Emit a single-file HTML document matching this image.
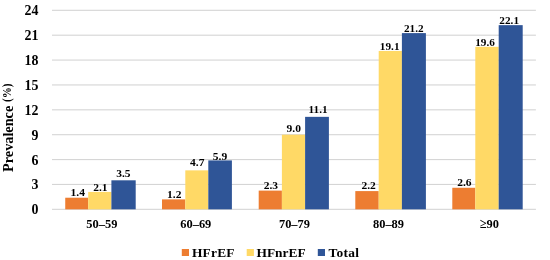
<!DOCTYPE html><html><head><meta charset="utf-8"><title>Prevalence</title>
<style>html,body{margin:0;padding:0;background:#fff}svg{display:block}text{font-family:"Liberation Serif",serif;font-weight:bold;fill:#000}</style></head><body>
<svg width="550" height="260" viewBox="0 0 550 260">
<rect width="550" height="260" fill="#fff"/>
<rect x="52.0" y="208.78" width="483.9" height="1.1" fill="#d5d5d5"/>
<text x="38.4" y="214.28" font-size="13.9" text-anchor="end">0</text>
<rect x="52.0" y="183.90" width="483.9" height="1.1" fill="#d5d5d5"/>
<text x="38.4" y="189.40" font-size="13.9" text-anchor="end">3</text>
<rect x="52.0" y="159.03" width="483.9" height="1.1" fill="#d5d5d5"/>
<text x="38.4" y="164.53" font-size="13.9" text-anchor="end">6</text>
<rect x="52.0" y="134.15" width="483.9" height="1.1" fill="#d5d5d5"/>
<text x="38.4" y="139.65" font-size="13.9" text-anchor="end">9</text>
<rect x="52.0" y="109.28" width="483.9" height="1.1" fill="#d5d5d5"/>
<text x="38.4" y="114.78" font-size="13.9" text-anchor="end">12</text>
<rect x="52.0" y="84.40" width="483.9" height="1.1" fill="#d5d5d5"/>
<text x="38.4" y="89.90" font-size="13.9" text-anchor="end">15</text>
<rect x="52.0" y="59.52" width="483.9" height="1.1" fill="#d5d5d5"/>
<text x="38.4" y="65.02" font-size="13.9" text-anchor="end">18</text>
<rect x="52.0" y="34.65" width="483.9" height="1.1" fill="#d5d5d5"/>
<text x="38.4" y="40.15" font-size="13.9" text-anchor="end">21</text>
<rect x="52.0" y="9.77" width="483.9" height="1.1" fill="#d5d5d5"/>
<text x="38.4" y="15.27" font-size="13.9" text-anchor="end">24</text>
<rect x="65.24" y="197.72" width="22.96" height="11.61" fill="#ED7D31"/>
<rect x="88.20" y="191.92" width="23.20" height="17.41" fill="#FFD966"/>
<rect x="111.40" y="180.31" width="24.30" height="29.02" fill="#2F5597"/>
<text transform="translate(77.80,196.30) scale(1.02,1)" font-size="11.3" text-anchor="middle">1.4</text>
<text transform="translate(100.35,190.50) scale(1.02,1)" font-size="11.3" text-anchor="middle">2.1</text>
<text transform="translate(123.35,177.00) scale(1.02,1)" font-size="11.3" text-anchor="middle">3.5</text>
<text transform="translate(101.85,227.85) scale(0.92,1)" font-size="13.5" text-anchor="middle">50–59</text>
<rect x="162.00" y="199.38" width="23.30" height="9.95" fill="#ED7D31"/>
<rect x="185.30" y="170.36" width="23.00" height="38.97" fill="#FFD966"/>
<rect x="208.30" y="160.41" width="23.60" height="48.92" fill="#2F5597"/>
<text transform="translate(174.20,197.80) scale(1.02,1)" font-size="11.3" text-anchor="middle">1.2</text>
<text transform="translate(197.20,165.80) scale(1.02,1)" font-size="11.3" text-anchor="middle">4.7</text>
<text transform="translate(220.05,160.00) scale(1.02,1)" font-size="11.3" text-anchor="middle">5.9</text>
<text transform="translate(195.8,227.85) scale(0.92,1)" font-size="13.5" text-anchor="middle">60–69</text>
<rect x="258.70" y="190.60" width="23.20" height="18.73" fill="#ED7D31"/>
<rect x="281.90" y="134.70" width="23.20" height="74.63" fill="#FFD966"/>
<rect x="305.10" y="116.85" width="23.80" height="92.48" fill="#2F5597"/>
<text transform="translate(270.85,189.40) scale(1.02,1)" font-size="11.3" text-anchor="middle">2.3</text>
<text transform="translate(293.70,132.20) scale(1.02,1)" font-size="11.3" text-anchor="middle">9.0</text>
<text transform="translate(318.05,113.30) scale(0.995,1)" font-size="11.3" text-anchor="middle">11.1</text>
<text transform="translate(294.45,227.85) scale(0.92,1)" font-size="13.5" text-anchor="middle">70–79</text>
<rect x="355.30" y="191.09" width="23.40" height="18.24" fill="#ED7D31"/>
<rect x="378.70" y="50.95" width="23.20" height="158.38" fill="#FFD966"/>
<rect x="401.90" y="33.10" width="24.00" height="176.23" fill="#2F5597"/>
<text transform="translate(368.60,189.00) scale(1.02,1)" font-size="11.3" text-anchor="middle">2.2</text>
<text transform="translate(389.70,49.90) scale(0.995,1)" font-size="11.3" text-anchor="middle">19.1</text>
<text transform="translate(413.75,32.10) scale(0.995,1)" font-size="11.3" text-anchor="middle">21.2</text>
<text transform="translate(388.5,227.85) scale(0.92,1)" font-size="13.5" text-anchor="middle">80–89</text>
<rect x="452.30" y="187.77" width="23.00" height="21.56" fill="#ED7D31"/>
<rect x="475.30" y="46.81" width="23.40" height="162.52" fill="#FFD966"/>
<rect x="498.70" y="25.15" width="24.00" height="184.18" fill="#2F5597"/>
<text transform="translate(464.40,186.40) scale(1.02,1)" font-size="11.3" text-anchor="middle">2.6</text>
<text transform="translate(485.05,45.60) scale(0.995,1)" font-size="11.3" text-anchor="middle">19.6</text>
<text transform="translate(509.20,23.70) scale(0.995,1)" font-size="11.3" text-anchor="middle">22.1</text>
<text transform="translate(489.3,227.85) scale(0.92,1)" font-size="13.5" text-anchor="middle">≥90</text>
<text transform="translate(12.6,171.95) rotate(-90)" font-size="14.25">Prevalence</text>
<text transform="translate(11.1,102.0) rotate(-90) scale(0.95,1)" font-size="11.6">(%)</text>
<rect x="181.8" y="249" width="7.2" height="7" fill="#ED7D31"/>
<text x="192.0" y="256.5" font-size="13.4" letter-spacing="0.2">HFrEF</text>
<rect x="246.7" y="249" width="7.2" height="7" fill="#FFD966"/>
<text x="256.5" y="256.5" font-size="13.4" letter-spacing="0">HFnrEF</text>
<rect x="317.8" y="249" width="7.2" height="7" fill="#2F5597"/>
<text x="328.4" y="256.5" font-size="13.4" letter-spacing="0.3">Total</text>
</svg></body></html>
